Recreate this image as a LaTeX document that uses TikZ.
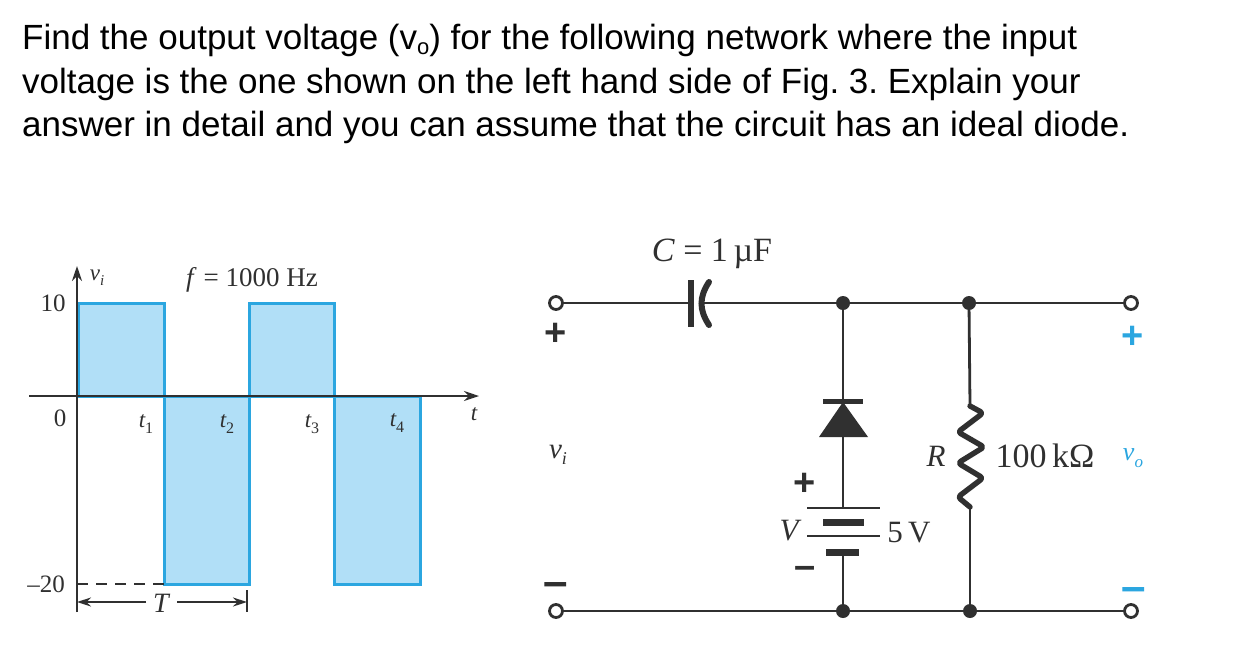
\documentclass[tikz,border=0pt]{standalone}
\usepackage{fontspec}
\usetikzlibrary{arrows.meta}
\setmainfont{Liberation Serif}
\newfontfamily\hsans{Liberation Sans}
\definecolor{ink}{HTML}{303030}
\definecolor{pulse}{HTML}{2BA6E0}
\definecolor{pulsefill}{HTML}{B1DFF7}
\tikzset{
  qline/.style={font=\hsans\fontsize{35}{44}\selectfont\frenchspacing,anchor=base west,inner sep=0pt,text=black},
  lab/.style={font=\fontsize{25}{30}\selectfont,text=ink,inner sep=0pt},
  biglab/.style={font=\fontsize{31}{34}\selectfont,text=ink,inner sep=0pt},
  tlab/.style={font=\itshape\fontsize{23}{28}\selectfont,text=ink,inner sep=0pt},
  sym/.style={font=\hsans\bfseries\fontsize{38}{40}\selectfont,text=ink,inner sep=0pt},
  minussym/.style={font=\hsans\bfseries\fontsize{44}{46}\selectfont,text=ink,inner sep=0pt},
  wire/.style={draw=ink,line width=2.4pt},
  pulsebox/.style={draw=pulse,fill=pulsefill,line width=3pt},
  axis/.style={draw=ink,line width=2.2pt,-{Stealth[length=15pt,width=10pt]}},
  term/.style={circle,draw=ink,fill=white,line width=2.8pt,minimum size=13pt,inner sep=0pt},
  dot/.style={circle,fill=ink,minimum size=14pt,inner sep=0pt},
  thickplate/.style={draw=ink,line width=7pt},
  thinplate/.style={draw=ink,line width=2.4pt}
}
\begin{document}
\begin{tikzpicture}[x=1pt,y=-1pt]
\useasboundingbox (0,0) rectangle (1236,646);
\fill[white] (0,0) rectangle (1236,646);
% question
\node[qline] (q1) at (22,49) {Find the output voltage (v\raisebox{-0.16em}{\fontsize{22}{22}\selectfont o}) for the following network where the input};
\node[qline] (q2) at (22,93) {voltage is the one shown on the left hand side of Fig. 3. Explain your};
\node[qline] (q3) at (22,136) {answer in detail and you can assume that the circuit has an ideal diode.};
% waveform
\draw[pulsebox] (78,396) rectangle (164.5,303);
\draw[pulsebox] (164.5,396) rectangle (249,584);
\draw[pulsebox] (249,396) rectangle (334,303);
\draw[pulsebox] (334,396) rectangle (420,584);
\coordinate (xs) at (29,396); \coordinate (xe) at (479,396);
\coordinate (ys) at (77,612); \coordinate (ye) at (77,266);
\draw[axis] (xs) -- (xe);
\draw[axis] (ys) -- (ye);
\node[tlab] (vi1) at (97,278) {v\raisebox{-0.2em}{\fontsize{15}{15}\selectfont i}};
\node[lab,font=\fontsize{27}{30}\selectfont] (freq) at (252,280) {\textit{f} = 1000 Hz};
\node[lab] (y10) at (53,303) {10};
\node[lab] (y0) at (60,418) {0};
\node[lab] (y20) at (46,584) {\textendash20};
\node[tlab] (t1) at (146,424) {t\raisebox{-0.25em}{\fontsize{16}{16}\selectfont\upshape 1}};
\node[tlab] (t2) at (227,424) {t\raisebox{-0.25em}{\fontsize{16}{16}\selectfont\upshape 2}};
\node[tlab] (t3) at (312,424) {t\raisebox{-0.25em}{\fontsize{16}{16}\selectfont\upshape 3}};
\node[tlab] (t4) at (397,423) {t\raisebox{-0.25em}{\fontsize{16}{16}\selectfont\upshape 4}};
\node[tlab] (tt) at (474,414) {t};
\coordinate (d1) at (77,584); \coordinate (d2) at (164,584);
\draw[ink,line width=1.8pt,dash pattern=on 11pt off 8pt] (d1) -- (d2);
\node[lab,font=\itshape\fontsize{28}{30}\selectfont] (T) at (161,603) {T};
\coordinate (ta) at (77,602); \coordinate (tb) at (247,602);
\coordinate (tl) at (146,602); \coordinate (tr) at (177,602);
\draw[ink,line width=1.8pt,-{Stealth[length=14pt,width=9pt]}] (tl) -- (ta);
\draw[ink,line width=1.8pt,-{Stealth[length=14pt,width=9pt]}] (tr) -- (tb);
\coordinate (tc) at (247,590); \coordinate (td) at (247,612);
\draw[ink,line width=1.8pt] (tc) -- (td);
% circuit nodes
\node[term] (a) at (556,303) {};
\node[term] (b) at (556,611) {};
\node[term] (c) at (1131,303) {};
\node[term] (e) at (1131,611) {};
\node[dot] (n1) at (843,303) {};
\node[dot] (n2) at (969,303) {};
\node[dot] (n3) at (843,611) {};
\node[dot] (n4) at (970,611) {};
\coordinate (capl) at (691,303); \coordinate (capr) at (702,303);
\coordinate (dtop) at (843,401); \coordinate (dbot) at (843,437);
\coordinate (bt1) at (843,508); \coordinate (bt2) at (843,552);
\coordinate (rtop) at (970,406); \coordinate (rbot) at (970,507);
% wires
\draw[wire] (a) -- (capl);
\draw[wire] (capr) -- (n1);
\draw[wire] (n1) -- (n2);
\draw[wire] (n2) -- (c);
\draw[wire,line width=2.8pt] (b) -- (n3);
\draw[wire,line width=2.8pt] (n3) -- (n4);
\draw[wire,line width=2.8pt] (n4) -- (e);
\draw[wire] (n1) -- (dtop);
\draw[wire] (dbot) -- (bt1);
\draw[wire,line width=2.8pt] (bt2) -- (n3);
\draw[wire,line width=2.8pt] (n2) -- (rtop);
\draw[wire,line width=2.8pt] (rbot) -- (n4);
% capacitor
\draw[ink,line width=6.5pt] (691,280) -- (691,327);
\draw[ink,line width=6pt,line cap=round] (709,282) .. controls (699,297) and (699,310) .. (709,325);
% diode
\fill[ink] (843,402) -- (868,437) -- (819,437) -- cycle;
\draw[ink,line width=5pt] (823,401) -- (863,401);
% battery
\draw[thinplate] (807,508) -- (880,508);
\draw[thickplate] (823,522) -- (864,522);
\draw[thinplate] (807,536) -- (880,536);
\draw[thickplate] (826,552) -- (859,552);
% resistor
\draw[ink,line width=5.4pt,line join=round,line cap=round,rounded corners=3pt] (rtop) -- (983,413) -- (958,432) -- (984,447) -- (958,463) -- (983,478) -- (958,497) -- (rbot);
% labels
\node[biglab,font=\fontsize{34}{36}\selectfont] (cl) at (712,254) {\textit{C} = 1\,µF};
\node[sym] (p1) at (556,334) {+};
\node[minussym] (m1) at (556,589) {\textendash};
\node[tlab,font=\itshape\fontsize{29}{30}\selectfont] (vi2) at (558,455) {v\raisebox{-0.2em}{\fontsize{18}{18}\selectfont i}};
\node[sym] (p2) at (805,484) {+};
\node[minussym,font=\hsans\bfseries\fontsize{38}{40}\selectfont] (m2) at (805,572) {\textendash};
\node[biglab,font=\itshape\fontsize{31}{34}\selectfont] (vv) at (789,531) {V};
\node[biglab] (fv) at (909,533) {5\,V};
\node[biglab,font=\itshape\fontsize{31}{34}\selectfont] (rr) at (936,456) {R};
\node[biglab,font=\fontsize{34}{36}\selectfont] (rv) at (1045,456) {100\,kΩ};
\node[tlab,font=\itshape\fontsize{26}{28}\selectfont,text=pulse] (vo) at (1133,458) {v\raisebox{-0.25em}{\fontsize{17}{17}\selectfont o}};
\node[sym,text=pulse] (p3) at (1133,337) {+};
\node[minussym,text=pulse] (m3) at (1134,594) {\textendash};
\end{tikzpicture}
\end{document}
